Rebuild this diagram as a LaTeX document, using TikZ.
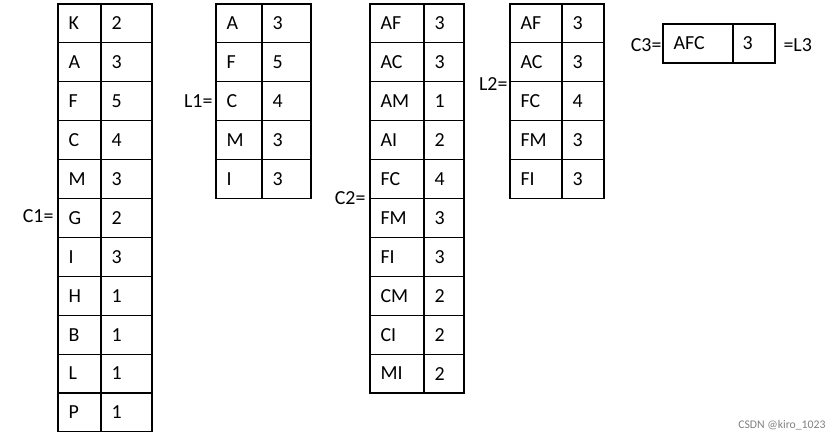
\documentclass[tikz,border=0pt]{standalone}
\usepackage{fontspec}
\setmainfont{Carlito}
\usetikzlibrary{positioning}
\begin{document}
\begin{tikzpicture}[
    x=0.03cm, y=-0.03cm,
    line width = 0.9pt,
    every node/.style={font=\fontsize{17}{20}\selectfont, inner sep=0pt},
    cell/.style={anchor=west},
    lbl/.style={anchor=east}
    ]

    % Determines the boundries
    \path [use as bounding box] (0,0) rectangle (840,442);

    \def\h{38.9}

    % Tables: name / left / split / right / entries
    \foreach \n/\xa/\xb/\xc/\entries in {
        Ca/58/101/152/{K/2,A/3,F/5,C/4,M/3,G/2,I/3,H/1,B/1,L/1,P/1},
        La/216/262/311/{A/3,F/5,C/4,M/3,I/3},
        Cb/370/424/464/{AF/3,AC/3,AM/1,AI/2,FC/4,FM/3,FI/3,CM/2,CI/2,MI/2},
        Lb/510/562/604/{AF/3,AC/3,FC/4,FM/3,FI/3}}{
        \foreach [count=\k] \s/\v in \entries {
            \draw (\xa,{4+(\k-1)*\h}) rectangle (\xb,{4+\k*\h})
                  (\xb,{4+(\k-1)*\h}) rectangle (\xc,{4+\k*\h});
            \node (\n s\k) [cell] at ({\xa+10},{4+(\k-0.5)*\h}) {\s};
            \node (\n v\k) [cell] at ({\xb+10},{4+(\k-0.5)*\h}) {\v};
        }
    }

    % Single row of C3
    \draw (663,24) rectangle (733,63) (733,24) rectangle (775,63);
    \node (Cc) [cell] at (673,43.5) {AFC};
    \node (Ccv) [cell] at (742,43.5) {3};

    % Labels
    \node (C1) [lbl] at (54,216) {C1=};
    \node (L1) [lbl] at (213,101) {L1=};
    \node (C2) [lbl] at (366,198) {C2=};
    \node (L2) [lbl] at (508,84) {L2=};
    \node (C3) [lbl] at (662,45) {C3=};
    \node (L3) [anchor=west] at (783,45) {=L3};

    \node (mark) [anchor=east, font=\fontsize{10}{12}\selectfont, gray] at (826,425) {CSDN @kiro\_1023};

\end{tikzpicture}
\end{document}
